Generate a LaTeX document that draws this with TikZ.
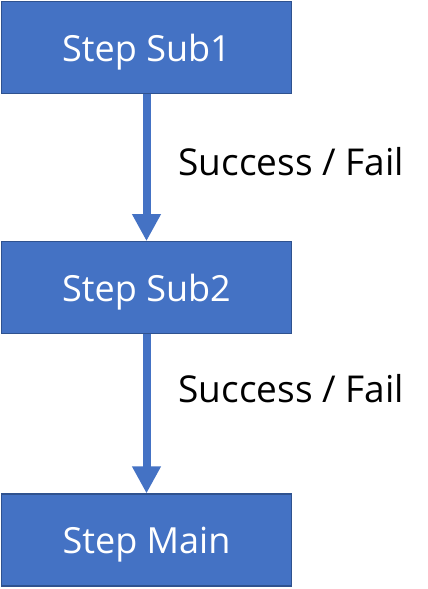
\documentclass[tikz,border=0pt]{standalone}
\usepackage{fontspec}
\setmainfont{Open Sans}
\usetikzlibrary{arrows.meta,positioning}

\definecolor{boxblue}{HTML}{4472C4}
\definecolor{boxedge}{HTML}{2F528F}

\begin{document}
\begin{tikzpicture}[
    x=1pt, y=1pt,
    stepbox/.style={rectangle, draw=boxedge, line width=1.3pt, fill=boxblue, text=white,
        minimum width=290pt, minimum height=92pt, inner sep=0pt, text depth=0pt,
        font=\fontsize{36}{42}\selectfont},
    arrow/.style={-{Triangle[width=27pt,length=27pt]}, line width=8pt, draw=boxblue},
    result/.style={anchor=west, font=\fontsize{37}{42}\selectfont, inner sep=0pt}
]
    \useasboundingbox (0,0) rectangle (428,-589);

    \node[stepbox] (sub1) at (146.5,-47.5) {Step Sub1};
    \node[stepbox, below=147pt of sub1] (sub2) {Step Sub2};
    \node[stepbox, below=159pt of sub2] (main) {Step Main};

    \draw[arrow] (sub1) -- node[result, pos=0.46, xshift=28pt] (res1) {Success / Fail} (sub2);
    \draw[arrow] (sub2) -- node[result, pos=0.34, xshift=28pt] (res2) {Success / Fail} (main);
\end{tikzpicture}
\end{document}
